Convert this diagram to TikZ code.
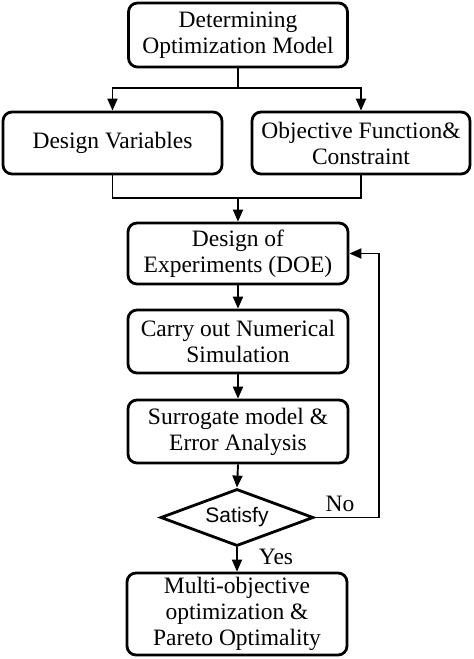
\documentclass[tikz,border=0pt]{standalone}
\usepackage{fontspec}
\setmainfont{Liberation Serif}
\newfontfamily\arialfont{Liberation Sans}
\usetikzlibrary{arrows.meta,shapes.geometric,calc}
\begin{document}
\begin{tikzpicture}[x=1pt,y=-1pt,
  box/.style={draw,line width=2.8pt,rounded corners=9pt,align=center,inner sep=0pt,font=\fontsize{23.5}{26}\selectfont},
  dec/.style={draw,line width=2.8pt,diamond,aspect=2.68,inner sep=0pt,minimum width=153pt,minimum height=57pt,font=\arialfont\fontsize{21}{24}\selectfont},
  conn/.style={line width=1.9pt},
  arr/.style={conn,-{Triangle[length=12pt,width=10pt]}},
  lbl/.style={font=\fontsize{23.5}{26}\selectfont,inner sep=0pt}]
\useasboundingbox (0,0) rectangle (474,659);
\node[box,minimum width=219pt,minimum height=64pt] (top) at (238,35) {Determining\\Optimization Model};
\node[box,minimum width=219pt,minimum height=62pt] (dv) at (112.5,143) {Design Variables};
\node[box,minimum width=218pt,minimum height=62pt] (of) at (361,143) {Objective Function\&\\Constraint};
\node[box,minimum width=220pt,minimum height=61pt] (doe) at (238,253.5) {Design of\\Experiments (DOE)};
\node[box,minimum width=220pt,minimum height=63pt] (carry) at (238,341.5) {Carry out Numerical\\Simulation};
\node[box,minimum width=220pt,minimum height=63pt] (surr) at (238,431.5) {Surrogate model \&\\Error Analysis};
\node[dec] (dia) at (237,517.5) {Satisfy};
\node[box,minimum width=220pt,minimum height=82pt] (fin) at (237,614) {Multi-objective\\optimization \&\\Pareto Optimality};
\coordinate (split) at (238,88);
\coordinate (join) at (238,198);
\coordinate (fb) at (379,253.5);
\draw[conn] (top.south) -- (split);
\draw[arr] (split) -| (dv.north);
\draw[arr] (split) -| (of.north);
\draw[conn] (dv.south) |- (join) -| (of.south);
\draw[arr] (join) -- (doe.north);
\draw[arr] (doe.south) -- (carry.north);
\draw[arr] (carry.south) -- (surr.north);
\draw[arr] (surr.south) -- (dia.north);
\draw[arr] (dia.south) -- (fin.north);
\draw[arr] (dia.east) -| (fb) -- (doe.east);
\node[lbl] (no) at (340,504) {No};
\node[lbl] (yes) at (276,557) {Yes};
\end{tikzpicture}
\end{document}
